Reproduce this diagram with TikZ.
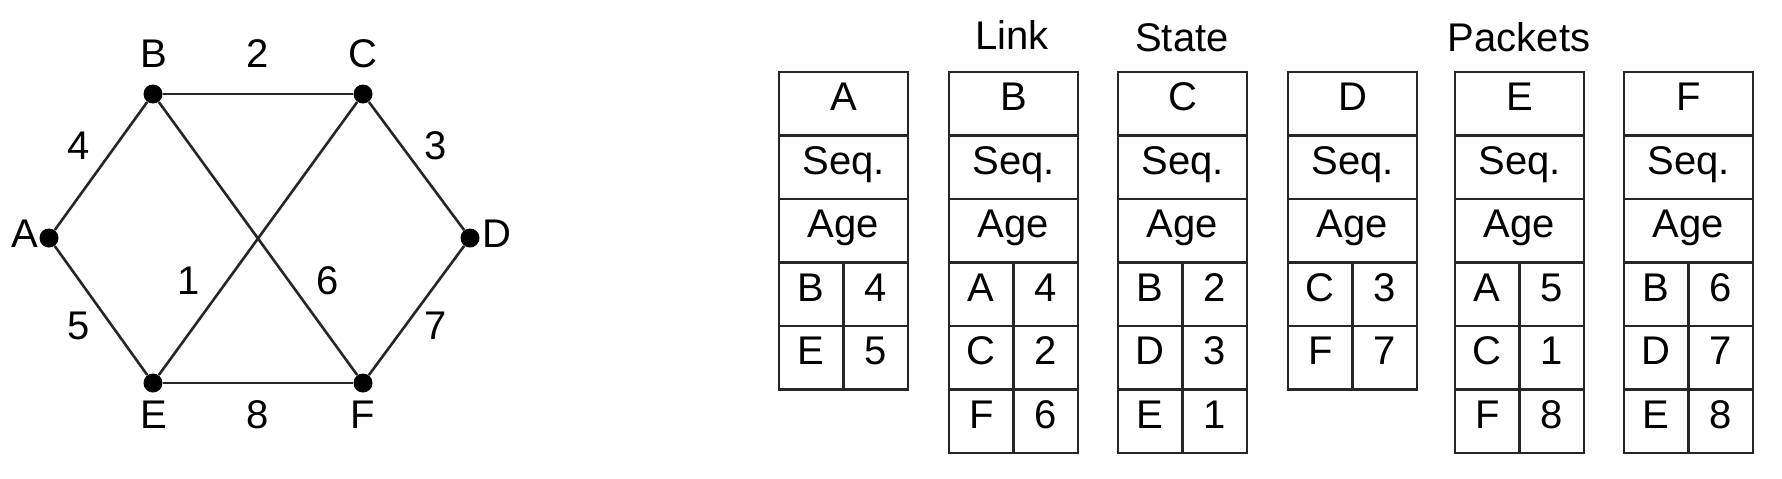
\documentclass[tikz,border=0pt]{standalone}
\usepackage{fontspec}
\setmainfont{Liberation Sans}
\begin{document}
\begin{tikzpicture}[x=0.5pt,y=-0.5pt,
  lbl/.style={font=\fontsize{20}{24}\selectfont, text height=0.716em, text depth=0pt, inner sep=0pt, outer sep=0pt},
  vertex/.style={circle, fill=black, minimum size=9.5pt, inner sep=0pt},
  edge/.style={line width=1.3pt, draw=black!85},
  cellbase/.style={lbl, draw=black!85, line width=1.2pt, anchor=north west, minimum height=31.75pt},
  full/.style={cellbase, minimum width=64.5pt},
  half/.style={cellbase, minimum width=32.25pt}]
\useasboundingbox[fill=white] (0,0) rectangle (1782,478);
% graph
\node[vertex] (A) at (49,238) {};
\node[vertex] (B) at (153,94) {};
\node[vertex] (C) at (363,94) {};
\node[vertex] (D) at (470,238) {};
\node[vertex] (E) at (153,383) {};
\node[vertex] (F) at (363,383) {};
\draw[edge] (A) -- (B);
\draw[edge] (B) -- (C);
\draw[edge] (C) -- (D);
\draw[edge] (D) -- (F);
\draw[edge] (F) -- (E);
\draw[edge] (E) -- (A);
\draw[edge] (B) -- (F);
\draw[edge] (C) -- (E);
\node[lbl] (Al) at (25,240) {A};
\node[lbl] (Bl) at (154,60) {B};
\node[lbl] (Cl) at (363,60) {C};
\node[lbl] (Dl) at (497,240) {D};
\node[lbl] (El) at (154,421) {E};
\node[lbl] (Fl) at (363,421) {F};
\node[lbl] (w2) at (258,60) {2};
\node[lbl] (w4) at (79,152) {4};
\node[lbl] (w3) at (436,152) {3};
\node[lbl] (w1) at (189,287) {1};
\node[lbl] (w6) at (328,287) {6};
\node[lbl] (w5) at (79,332) {5};
\node[lbl] (w7) at (436,332) {7};
\node[lbl] (w8) at (258,421) {8};
% tables
\newcommand\lsptab[4]{%
  \node[full] (#1h) at (#2,72) {#3};
  \node[full] (#1s) at (#2,135.5) {Seq.};
  \node[full] (#1a) at (#2,199) {Age};
  \foreach \ltr/\val [count=\i] in {#4} {
    \node[half] (#1l\i) at (#2, 199+63.5*\i) {\ltr};
    \node[half] (#1r\i) at (#2+64.5, 199+63.5*\i) {\val};
  }}
\lsptab{tA}{779}{A}{B/4,E/5}
\lsptab{tB}{949}{B}{A/4,C/2,F/6}
\lsptab{tC}{1118}{C}{B/2,D/3,E/1}
\lsptab{tD}{1288}{D}{C/3,F/7}
\lsptab{tE}{1455}{E}{A/5,C/1,F/8}
\lsptab{tF}{1624}{F}{B/6,D/7,E/8}
\node[lbl] (link) at (1012,42) {Link};
\node[lbl] (state) at (1182,44) {State};
\node[lbl] (packets) at (1519,44) {Packets};
\end{tikzpicture}
\end{document}
